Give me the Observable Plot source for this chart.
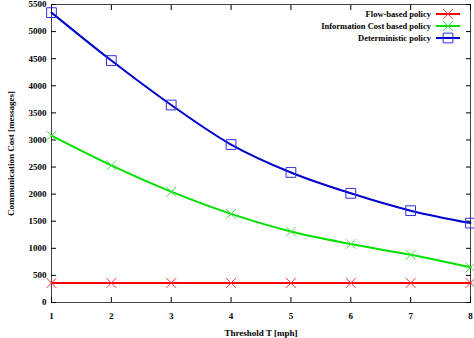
<!DOCTYPE html>
<html><head><meta charset="utf-8">
<script src="https://cdn.jsdelivr.net/npm/d3@7"></script>
<script src="https://cdn.jsdelivr.net/npm/@observablehq/plot@0.6"></script>
<style>
body{margin:0;background:#fff}
#wrap{position:relative;width:474px;height:338px}
#legend{position:absolute;top:8px;right:14px;font:bold 8.5px "Liberation Serif",serif;color:#000}
#legend .row{display:flex;align-items:center;justify-content:flex-end;height:12px}
#legend svg{margin-left:5px}
</style></head><body><div id="wrap"><div id="legend"></div></div>
<script>
const thresholds = [1, 2, 3, 4, 5, 6, 7, 8];
const flowBased = [360, 360, 360, 360, 360, 360, 360, 360];
const infoCost = [3080, 2530, 2045, 1635, 1310, 1080, 880, 650];
const deterministic = [5350, 4465, 3645, 2915, 2400, 2015, 1695, 1465];
const seriesNames = ["Flow-based policy", "Information Cost based policy", "Deterministic policy"];
const xTicks = [1, 2, 3, 4, 5, 6, 7, 8];
const yTicks = [0, 500, 1000, 1500, 2000, 2500, 3000, 3500, 4000, 4500, 5000, 5500];

const lineColors = ["#ff0000", "#00e000", "#0000cc"];
const markColors = ["#ff3030", "#40e040", "#3030e0"];
const markSymbols = ["times", "times", "square"];
const markSizes = [4.5, 4.5, 5.5];
const seriesValues = [flowBased, infoCost, deterministic];

const marks = [
  Plot.frame({stroke: "#444"}),
  Plot.axisY(yTicks, {anchor: "left", tickSize: 0, tickPadding: 5, tickFormat: d => String(d), label: "Communication Cost [messages]", labelAnchor: "center", labelOffset: 44, labelArrow: "none"}),
  Plot.axisY(yTicks, {anchor: "left", tickSize: 5, dx: 5, tickFormat: () => "", label: null}),
  Plot.axisY(yTicks, {anchor: "right", tickSize: 5, dx: -5, tickFormat: () => "", label: null}),
  Plot.axisX(xTicks, {anchor: "bottom", tickSize: 0, tickPadding: 10, tickFormat: d => String(d), label: "Threshold T [mph]", labelAnchor: "center", labelOffset: 33, labelArrow: "none"}),
  Plot.axisX(xTicks, {anchor: "bottom", tickSize: 5, dy: -5, tickFormat: () => "", label: null}),
  Plot.axisX(xTicks, {anchor: "top", tickSize: 5, dy: 5, tickFormat: () => "", label: null})
];
seriesValues.forEach((vals, k) => {
  const d = thresholds.map((t, i) => ({t, v: vals[i]}));
  marks.push(Plot.line(d, {x: "t", y: "v", stroke: lineColors[k], strokeWidth: 2, curve: "catmull-rom"}));
  marks.push(Plot.dot(d, {x: "t", y: "v", stroke: markColors[k], symbol: markSymbols[k], r: markSizes[k], strokeWidth: 1}));
});

const chart = Plot.plot({
  width: 474, height: 338,
  marginLeft: 51, marginRight: 4, marginTop: 4, marginBottom: 36,
  x: {domain: [1, 8]},
  y: {domain: [0, 5500]},
  style: {fontFamily: "Liberation Serif", fontWeight: "bold", fontSize: "9px", color: "#000", background: "#fff"},
  marks
});
document.getElementById("wrap").prepend(chart);

const legend = document.getElementById("legend");
seriesNames.forEach((name, k) => {
  const row = document.createElement("div");
  row.className = "row";
  const span = document.createElement("span");
  span.textContent = name;
  row.appendChild(span);
  const ns = "http://www.w3.org/2000/svg";
  const s = document.createElementNS(ns, "svg");
  s.setAttribute("width", 24); s.setAttribute("height", 12);
  const l = document.createElementNS(ns, "line");
  l.setAttribute("x1", 0); l.setAttribute("x2", 24); l.setAttribute("y1", 6); l.setAttribute("y2", 6);
  l.setAttribute("stroke", lineColors[k]); l.setAttribute("stroke-width", 2);
  s.appendChild(l);
  const p = document.createElementNS(ns, "path");
  const sym = markSymbols[k] === "square" ? d3.symbolSquare : d3.symbolTimes;
  p.setAttribute("d", d3.symbol(sym, markSizes[k] * markSizes[k] * Math.PI)());
  p.setAttribute("transform", "translate(12,6)");
  p.setAttribute("fill", "none"); p.setAttribute("stroke", markColors[k]);
  s.appendChild(p);
  row.appendChild(s);
  legend.appendChild(row);
});
</script>
</body></html>
